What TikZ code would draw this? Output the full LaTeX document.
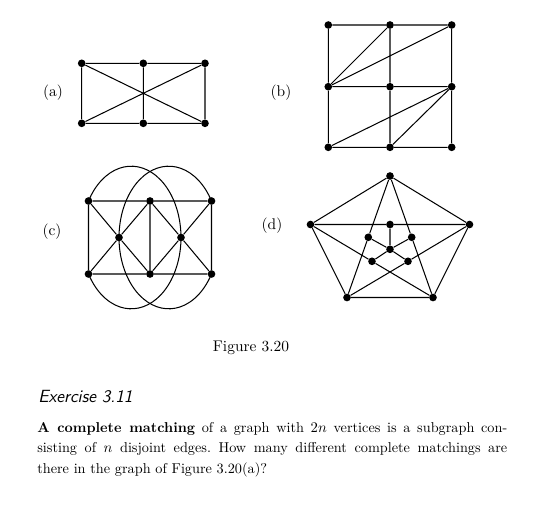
\documentclass[tikz,border=0pt]{standalone}
\usepackage{tikz}
\begin{document}
\begin{tikzpicture}[x=0.68pt,y=-0.68pt,
  dot/.style={circle,fill=black,inner sep=0pt,minimum size=5.2pt},
  edge/.style={line width=0.7pt},
  lbl/.style={font=\fontsize{10.5}{12}\selectfont,inner sep=0pt}]
\fill[white] (0,0) rectangle (539,504);
\useasboundingbox (0,0) rectangle (539,504);
% ---------- (a)
\node[lbl] (la) at (53,93) {(a)};
\node[dot] (a1) at (81.7,63.3) {};
\node[dot] (a2) at (143.3,63.3) {};
\node[dot] (a3) at (205,63.3) {};
\node[dot] (a4) at (81.7,123.3) {};
\node[dot] (a5) at (143.3,123.3) {};
\node[dot] (a6) at (205,123.3) {};
\draw[edge] (a1)--(a2) (a2)--(a3) (a4)--(a5) (a5)--(a6)
  (a1)--(a4) (a2)--(a5) (a3)--(a6) (a1)--(a6) (a3)--(a4);
% ---------- (b)
\node[lbl] (lb) at (281,93) {(b)};
\foreach \i/\x in {0/328.3,1/390,2/451.7}
  \foreach \j/\y in {0/25,1/86.7,2/147.3}
    \node[dot] (b\i\j) at (\x,\y) {};
\draw[edge] (b00)--(b10) (b10)--(b20) (b01)--(b11) (b11)--(b21) (b02)--(b12) (b12)--(b22)
  (b00)--(b01) (b01)--(b02) (b10)--(b11) (b11)--(b12) (b20)--(b21) (b21)--(b22)
  (b01)--(b10) (b01)--(b20) (b21)--(b02) (b21)--(b12);
% ---------- (c)
\node[lbl] (lc) at (52,232) {(c)};
\node[dot] (c1) at (88.5,201) {};
\node[dot] (c2) at (150,201) {};
\node[dot] (c3) at (211.5,201) {};
\node[dot] (c4) at (119,237.5) {};
\node[dot] (c5) at (181,237.5) {};
\node[dot] (c6) at (88.5,274) {};
\node[dot] (c7) at (150,274) {};
\node[dot] (c8) at (211.5,274) {};
\draw[edge] (c1)--(c2) (c2)--(c3) (c6)--(c7) (c7)--(c8)
  (c1)--(c6) (c2)--(c7) (c3)--(c8)
  (c1)--(c4) (c4)--(c2) (c4)--(c6) (c4)--(c7)
  (c2)--(c5) (c5)--(c3) (c5)--(c7) (c5)--(c8);
\draw[edge] (c1) arc[start angle=210.79,end angle=509.21,x radius=49.75,y radius=71.3];
\draw[edge] (c3) arc[start angle=-30.79,end angle=-329.21,x radius=49.75,y radius=71.3];
% ---------- (d)
\node[lbl] (ld) at (272,226) {(d)};
\node[dot] (d1) at (390,176) {};
\node[dot] (d2) at (310.5,224.5) {};
\node[dot] (d3) at (469.5,224.5) {};
\node[dot] (d4) at (347,297.5) {};
\node[dot] (d5) at (433,297.5) {};
\node[dot] (ct) at (390,224.5) {};
\node[dot] (ul) at (368.3,237.3) {};
\node[dot] (ur) at (411.7,237.3) {};
\node[dot] (cc) at (390,249.3) {};
\node[dot] (ll) at (372,261.3) {};
\node[dot] (lr) at (408,261.3) {};
\draw[edge] (d1)--(d2) (d1)--(d3) (d2)--(d4) (d3)--(d5) (d4)--(d5)
  (d1)--(ul) (ul)--(d4) (d1)--(ur) (ur)--(d5)
  (d2)--(ct) (ct)--(d3) (d2)--(ll) (ll)--(d5) (d3)--(lr) (lr)--(d4)
  (cc)--(ct) (cc)--(ul) (cc)--(ur) (cc)--(ll) (cc)--(lr);
% ---------- texts
\node[anchor=base,inner sep=0pt,font=\fontsize{10.5}{12}\selectfont] (fig) at (251,351) {Figure 3.20};
\node[anchor=base west,inner sep=0pt,font=\fontsize{12}{14}\sffamily\slshape\selectfont] (ex) at (38,402) {Exercise 3.11};
\node[anchor=base west,inner sep=0pt,text width=319.6pt,align=justify,
  font=\fontsize{9.7}{14}\selectfont] (body) at (37,432)
  {\tolerance=10000 \frenchspacing {\bfseries A complete matching} of a graph with $2n$ vertices is a subgraph con-\linebreak
  sisting of $n$ disjoint edges. How many different complete matchings are\linebreak
  there in the graph of Figure~3.20(a)?};
\end{tikzpicture}
\end{document}
